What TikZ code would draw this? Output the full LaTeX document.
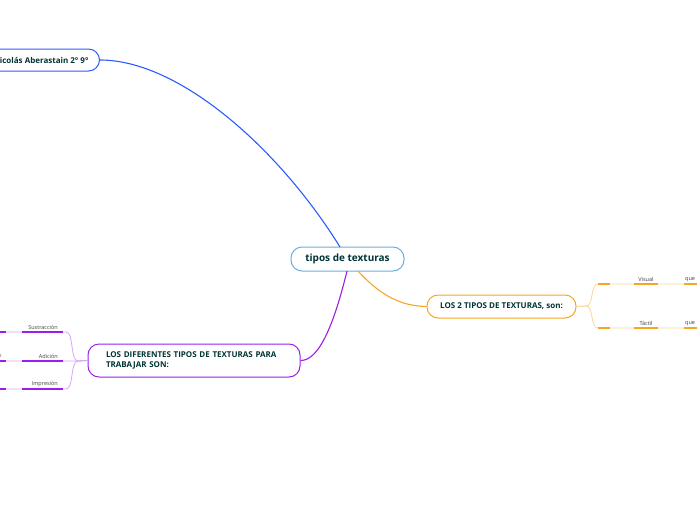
\documentclass[tikz,border=0pt]{standalone}
\usepackage{fontspec}
\setmainfont{Open Sans}
\begin{document}
\begin{tikzpicture}[x=1pt,y=-1pt,
 box/.style={draw,rounded corners=11pt,line width=1pt,fill=white,font=\bfseries\fontsize{8}{10}\selectfont,text=teal!40!black,inner sep=0pt},
 lab/.style={font=\fontsize{5.5}{6}\selectfont,text=black!75,inner sep=1pt},
 conn/.style={line width=1.1pt}]
\useasboundingbox (0,0) rectangle (697,520);
\definecolor{cb}{HTML}{2B5BFF}\definecolor{co}{HTML}{F5A623}\definecolor{cp}{HTML}{9B1FE8}\definecolor{cl}{HTML}{6AAEDC}
\node[box,draw=cl,minimum width=113pt,minimum height=24pt,font=\bfseries\fontsize{10}{12}\selectfont] (c) at (347.5,259) {tipos de texturas};
\node[box,draw=cb,minimum height=22pt,anchor=east,inner xsep=11pt] (t) at (100,60) {Nicolás Aberastain 2° 9°};
\node[box,draw=co,minimum width=149pt,minimum height=23pt] (o) at (501.5,306.5) {LOS 2 TIPOS DE TEXTURAS, son:};
\node[box,draw=cp,minimum width=212pt,minimum height=33pt,text width=176pt,align=left] (p) at (194,360.5) {LOS DIFERENTES TIPOS DE TEXTURAS PARA\\TRABAJAR SON:};
\coordinate (ct) at (340,247); \coordinate (cbo) at (358,271); \coordinate (cbp) at (347,271);
\draw[conn,cb] (ct) .. controls (280,150) and (180,60) .. (t.east);
\draw[conn,co] (cbo) .. controls (380,295) and (400,306) .. (o.west);
\draw[conn,cp] (cbp) .. controls (335,320) and (320,361) .. (p.east);
% orange children
\foreach \y/\t in {284/Visual,328/Táctil}{
 \coordinate (a\y) at (598,\y);
 \draw[co!45,line width=0.8pt] (o.east) -- (586,306) .. controls (594,306) and (590,\y) .. (a\y) -- (697,\y);
 \draw[co,line width=1.3pt] (598,\y)--(610,\y) (634,\y)--(658,\y) (684,\y)--(697,\y);
 \node[lab,anchor=south] (v\y) at (646,\y-1) {\t};
 \node[lab,anchor=south west] (q\y) at (684,\y-1) {que};
}
% purple children
\foreach \y/\t in {332/Sustracción,361/Adición,389/Impresión}{
 \coordinate (b\y) at (66,\y);
 \draw[cp!40,line width=0.8pt] (p.west) -- (78,361) .. controls (70,361) and (74,\y) .. (b\y) -- (0,\y);
 \draw[cp,line width=1.3pt] (22,\y)--(63,\y) (0,\y)--(6,\y);
 \node[lab,anchor=south east] (l\y) at (59,\y-1) {\t};
}
\node[lab,anchor=south] (r) at (0,360) {y};
\end{tikzpicture}
\end{document}
